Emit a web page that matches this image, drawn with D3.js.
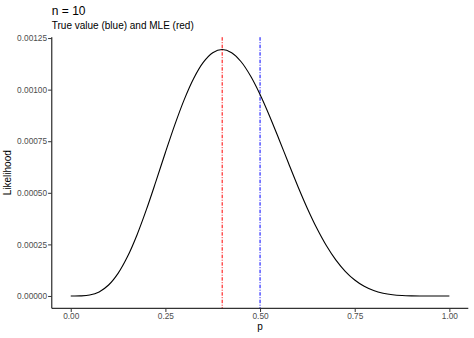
<!DOCTYPE html>
<html><head><meta charset="utf-8">
<script src="https://cdn.jsdelivr.net/npm/d3@7"></script>
<style>body{margin:0;background:#fff}svg{display:block}</style>
</head><body>
<script>
const pValues = [0,0.025,0.05,0.075,0.1,0.125,0.15,0.175,0.2,0.225,0.25,0.275,0.3,0.325,0.35,0.375,0.4,0.425,0.45,0.475,0.5,0.525,0.55,0.575,0.6,0.625,0.65,0.675,0.7,0.725,0.75,0.775,0.8,0.825,0.85,0.875,0.9,0.925,0.95,0.975,1];
const likelihood = [0,3.356e-7,4.594e-6,1.982e-5,5.314e-5,1.0957e-4,1.9093e-4,2.9572e-4,4.1943e-4,5.5531e-4,6.9523e-4,8.3054e-4,9.5296e-4,1.05528e-3,1.13176e-3,1.17870e-3,1.19439e-3,1.17914e-3,1.13510e-3,1.06594e-3,9.7656e-4,8.726e-4,7.599e-4,6.442e-4,5.3084e-4,4.243e-4,3.2815e-4,2.4463e-4,1.7503e-4,1.1950e-4,7.725e-5,4.681e-5,2.6214e-5,1.3306e-5,5.946e-6,2.236e-6,6.561e-7,1.303e-7,1.27e-8,2e-10,0];
const trueValue = 0.5;
const mle = 0.4;
const xTicks = [0,0.25,0.5,0.75,1];
const yTicks = [0,0.00025,0.0005,0.00075,0.001,0.00125];
const titleText = "n = 10";
const subtitleText = "True value (blue) and MLE (red)";

const W=474,H=338;
const svg=d3.select("body").append("svg").attr("width",W).attr("height",H);
const pL=51.8,pR=468.3,pT=37.2,pB=308.3;
const ymax=d3.max(likelihood);
const x=d3.scaleLinear().domain([-0.05,1.05]).range([pL,pR]);
const y=d3.scaleLinear().domain([-0.05*ymax,1.05*ymax]).range([pB,pT]);
const font="Liberation Sans, Arial, Helvetica, sans-serif";

// vertical lines
const dash="3.5,1.5,1,1.5";
svg.append("line").attr("x1",x(mle)).attr("x2",x(mle)).attr("y1",pT).attr("y2",pB)
  .attr("stroke","red").attr("stroke-width",1).attr("stroke-dasharray",dash);
svg.append("line").attr("x1",x(trueValue)).attr("x2",x(trueValue)).attr("y1",pT).attr("y2",pB)
  .attr("stroke","blue").attr("stroke-width",1).attr("stroke-dasharray",dash);

// curve
const data=pValues.map((p,i)=>[p,likelihood[i]]);
svg.append("path").datum(data)
  .attr("d",d3.line().x(d=>x(d[0])).y(d=>y(d[1])).curve(d3.curveCatmullRom))
  .attr("fill","none").attr("stroke","black").attr("stroke-width",1.1);

// axes
const xAxis=svg.append("g").attr("transform",`translate(0,${pB})`)
  .call(d3.axisBottom(x).tickValues(xTicks).tickFormat(d3.format(".2f")).tickSize(3.7).tickPadding(0.7));
const yAxis=svg.append("g").attr("transform",`translate(${pL},0)`)
  .call(d3.axisLeft(y).tickValues(yTicks).tickFormat(d3.format(".5f")).tickSize(3.7).tickPadding(1));
[xAxis,yAxis].forEach(g=>{
  g.select(".domain").attr("stroke","black").attr("stroke-width",1);
  g.selectAll(".tick line").attr("stroke","#333").attr("stroke-width",1);
  g.selectAll(".tick text").attr("fill","#4D4D4D").style("font-family",font).style("font-size","8.3px");
});
xAxis.select(".domain").attr("d",`M${pL},0H${pR}`);
yAxis.select(".domain").attr("d",`M0,${pB}V${pT}`);

// titles
svg.append("text").attr("x",pL).attr("y",14.5).text(titleText)
  .style("font-family",font).style("font-size","12px").attr("fill","black");
svg.append("text").attr("x",pL).attr("y",29).text(subtitleText)
  .style("font-family",font).style("font-size","10px").attr("fill","black");
svg.append("text").attr("x",(pL+pR)/2).attr("y",330).attr("text-anchor","middle").text("p")
  .style("font-family",font).style("font-size","10px").attr("fill","black");
svg.append("text").attr("transform",`translate(11,${(pT+pB)/2}) rotate(-90)`).attr("text-anchor","middle").text("Likelihood")
  .style("font-family",font).style("font-size","10px").attr("fill","black");
</script>
</body></html>
